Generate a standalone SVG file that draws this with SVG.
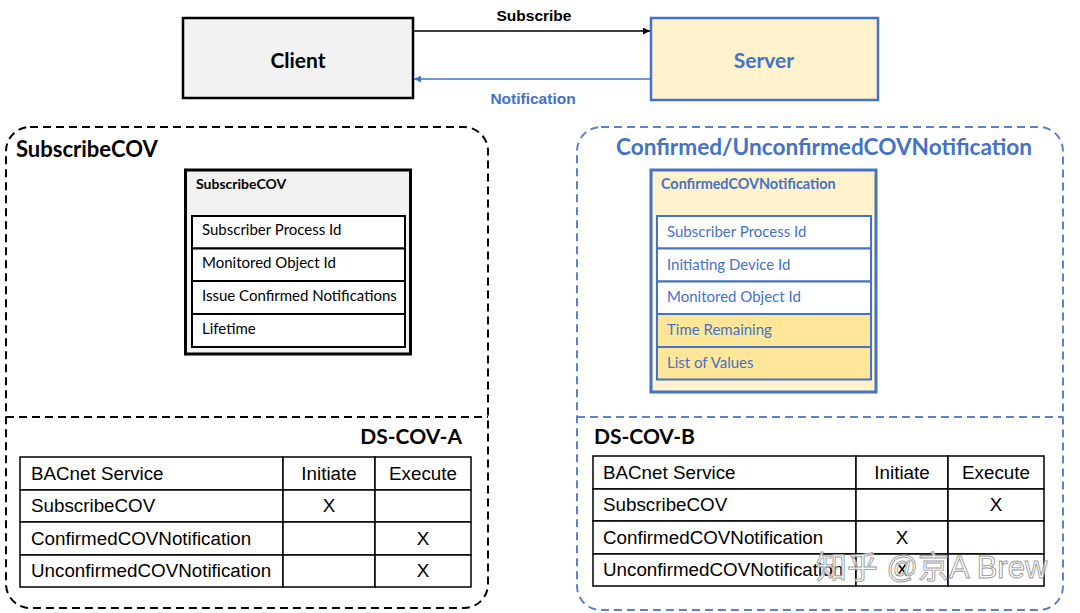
<svg xmlns="http://www.w3.org/2000/svg" width="1080" height="613" viewBox="0 0 1080 613">
<defs>
<style>
.cal{font-family:Lato,"Open Sans","Liberation Sans",sans-serif}
.ar{font-family:"Liberation Sans",Arial,sans-serif}
.b{font-weight:bold}
.blue{fill:#4472c4}
.blk{fill:#000}
.row{font-size:15px}
.tbl{font-size:18.8px}
.cell{fill:#fff;stroke:#000;stroke-width:1.5}
.brow{fill:#fff;stroke:#000;stroke-width:2}
.yrow{fill:#fff;stroke:#4472c4;stroke-width:2}
.grow{fill:#ffe699;stroke:#4472c4;stroke-width:2}
.mid{text-anchor:middle}
</style>
<marker id="ahB" viewBox="0 0 10 10" refX="10" refY="5" markerWidth="7" markerHeight="7" markerUnits="userSpaceOnUse" orient="auto"><path d="M0,0 L10,5 L0,10 z" fill="#000"/></marker>
<marker id="ahU" viewBox="0 0 10 10" refX="10" refY="5" markerWidth="7" markerHeight="7" markerUnits="userSpaceOnUse" orient="auto"><path d="M0,0 L10,5 L0,10 z" fill="#4472c4"/></marker>
</defs>
<rect width="1080" height="613" fill="#fff"/>

<g id="client">
<rect x="183" y="18" width="230" height="80" fill="#f2f2f2" stroke="#000" stroke-width="2.5"/>
<text x="298" y="68" class="cal b mid" font-size="21" fill="#000">Client</text>
</g>
<g id="server">
<rect x="651" y="18" width="227" height="82" fill="#fff2cc" stroke="#4472c4" stroke-width="2.5"/>
<text x="764" y="68" class="cal b mid blue" font-size="21">Server</text>
</g>

<g id="connectors">
<line x1="414" y1="31" x2="650" y2="31" stroke="#000" stroke-width="1.3" marker-end="url(#ahB)"/>
<text x="534" y="21" class="ar b mid" font-size="15.5" fill="#000">Subscribe</text>
<line x1="650" y1="79" x2="414" y2="79" stroke="#4472c4" stroke-width="1.3" marker-end="url(#ahU)"/>
<text x="533" y="104" class="ar b mid blue" font-size="15.5">Notification</text>
</g>

<g id="left-panel">
<rect x="6" y="127" width="482" height="481" rx="24" fill="none" stroke="#000" stroke-width="2" stroke-dasharray="8 5"/>
<line x1="6" y1="417" x2="488" y2="417" stroke="#000" stroke-width="2" stroke-dasharray="8 5"/>
<text x="16" y="157" class="cal b" font-size="22" fill="#000">SubscribeCOV</text>
</g>

<g id="subscribe-cov-box">
<rect x="185.5" y="170" width="225" height="184" fill="#f2f2f2" stroke="#000" stroke-width="3"/>
<text x="196" y="189" class="cal b" font-size="14" fill="#000">SubscribeCOV</text>
<rect x="192" y="216" width="213" height="32.5" class="brow"/>
<rect x="192" y="248.5" width="213" height="32.5" class="brow"/>
<rect x="192" y="281" width="213" height="33" class="brow"/>
<rect x="192" y="314" width="213" height="33" class="brow"/>
<text x="202" y="235" class="cal row blk">Subscriber Process Id</text>
<text x="202" y="268" class="cal row blk">Monitored Object Id</text>
<text x="202" y="301" class="cal row blk">Issue Confirmed Notifications</text>
<text x="202" y="334" class="cal row blk">Lifetime</text>
</g>

<g id="ds-cov-a">
<text x="462" y="444" class="cal b" font-size="21" fill="#000" text-anchor="end">DS-COV-A</text>
<rect x="20" y="457" width="263" height="33" class="cell"/>
<rect x="283" y="457" width="92" height="33" class="cell"/>
<rect x="375" y="457" width="96" height="33" class="cell"/>
<rect x="20" y="490" width="263" height="32" class="cell"/>
<rect x="283" y="490" width="92" height="32" class="cell"/>
<rect x="375" y="490" width="96" height="32" class="cell"/>
<rect x="20" y="522" width="263" height="33" class="cell"/>
<rect x="283" y="522" width="92" height="33" class="cell"/>
<rect x="375" y="522" width="96" height="33" class="cell"/>
<rect x="20" y="555" width="263" height="32" class="cell"/>
<rect x="283" y="555" width="92" height="32" class="cell"/>
<rect x="375" y="555" width="96" height="32" class="cell"/>
<text x="31" y="480" class="ar tbl blk">BACnet Service</text>
<text x="329" y="480" class="ar tbl blk mid">Initiate</text>
<text x="423" y="480" class="ar tbl blk mid">Execute</text>
<text x="31" y="512" class="ar tbl blk">SubscribeCOV</text>
<text x="329" y="512" class="ar tbl blk mid">X</text>
<text x="31" y="545" class="ar tbl blk">ConfirmedCOVNotification</text>
<text x="423" y="545" class="ar tbl blk mid">X</text>
<text x="31" y="577" class="ar tbl blk">UnconfirmedCOVNotification</text>
<text x="423" y="577" class="ar tbl blk mid">X</text>
</g>

<g id="right-panel">
<rect x="577" y="127" width="486" height="483" rx="24" fill="none" stroke="#5b84c8" stroke-width="2" stroke-dasharray="8 5"/>
<line x1="577" y1="417" x2="1063" y2="417" stroke="#5b84c8" stroke-width="2" stroke-dasharray="8 5"/>
<text x="824" y="155" class="cal b mid blue" font-size="22.6">Confirmed/UnconfirmedCOVNotification</text>
</g>

<g id="confirmed-cov-box">
<rect x="651" y="170" width="225" height="222" fill="#fff2cc" stroke="#4472c4" stroke-width="3"/>
<text x="661" y="189" class="cal b blue" font-size="14.4">ConfirmedCOVNotification</text>
<rect x="657" y="216" width="214" height="32.5" class="yrow"/>
<rect x="657" y="248.5" width="214" height="33" class="yrow"/>
<rect x="657" y="281.5" width="214" height="32.5" class="yrow"/>
<rect x="657" y="314" width="214" height="33" class="grow"/>
<rect x="657" y="347" width="214" height="32.5" class="grow"/>
<text x="667" y="237" class="cal row blue">Subscriber Process Id</text>
<text x="667" y="270" class="cal row blue">Initiating Device Id</text>
<text x="667" y="302" class="cal row blue">Monitored Object Id</text>
<text x="667" y="335" class="cal row blue">Time Remaining</text>
<text x="667" y="368" class="cal row blue">List of Values</text>
</g>

<g id="ds-cov-b">
<text x="594" y="444" class="cal b" font-size="21" fill="#000">DS-COV-B</text>
<rect x="593" y="456" width="263" height="33" class="cell"/>
<rect x="856" y="456" width="92" height="33" class="cell"/>
<rect x="948" y="456" width="96" height="33" class="cell"/>
<rect x="593" y="489" width="263" height="32" class="cell"/>
<rect x="856" y="489" width="92" height="32" class="cell"/>
<rect x="948" y="489" width="96" height="32" class="cell"/>
<rect x="593" y="521" width="263" height="33" class="cell"/>
<rect x="856" y="521" width="92" height="33" class="cell"/>
<rect x="948" y="521" width="96" height="33" class="cell"/>
<rect x="593" y="554" width="263" height="32" class="cell"/>
<rect x="856" y="554" width="92" height="32" class="cell"/>
<rect x="948" y="554" width="96" height="32" class="cell"/>
<text x="603" y="479" class="ar tbl blk">BACnet Service</text>
<text x="902" y="479" class="ar tbl blk mid">Initiate</text>
<text x="996" y="479" class="ar tbl blk mid">Execute</text>
<text x="603" y="511" class="ar tbl blk">SubscribeCOV</text>
<text x="996" y="511" class="ar tbl blk mid">X</text>
<text x="603" y="544" class="ar tbl blk">ConfirmedCOVNotification</text>
<text x="902" y="544" class="ar tbl blk mid">X</text>
<text x="603" y="576" class="ar tbl blk">UnconfirmedCOVNotification</text>
<text x="902" y="576" class="ar tbl blk mid">X</text>
</g>

<text x="816" y="578" font-family="'Liberation Sans','Noto Sans CJK SC',sans-serif" font-size="31" fill="#fff" fill-opacity="0.75" stroke="#9a9a9a" stroke-width="0.9">知乎 @京A Brew</text>
</svg>
